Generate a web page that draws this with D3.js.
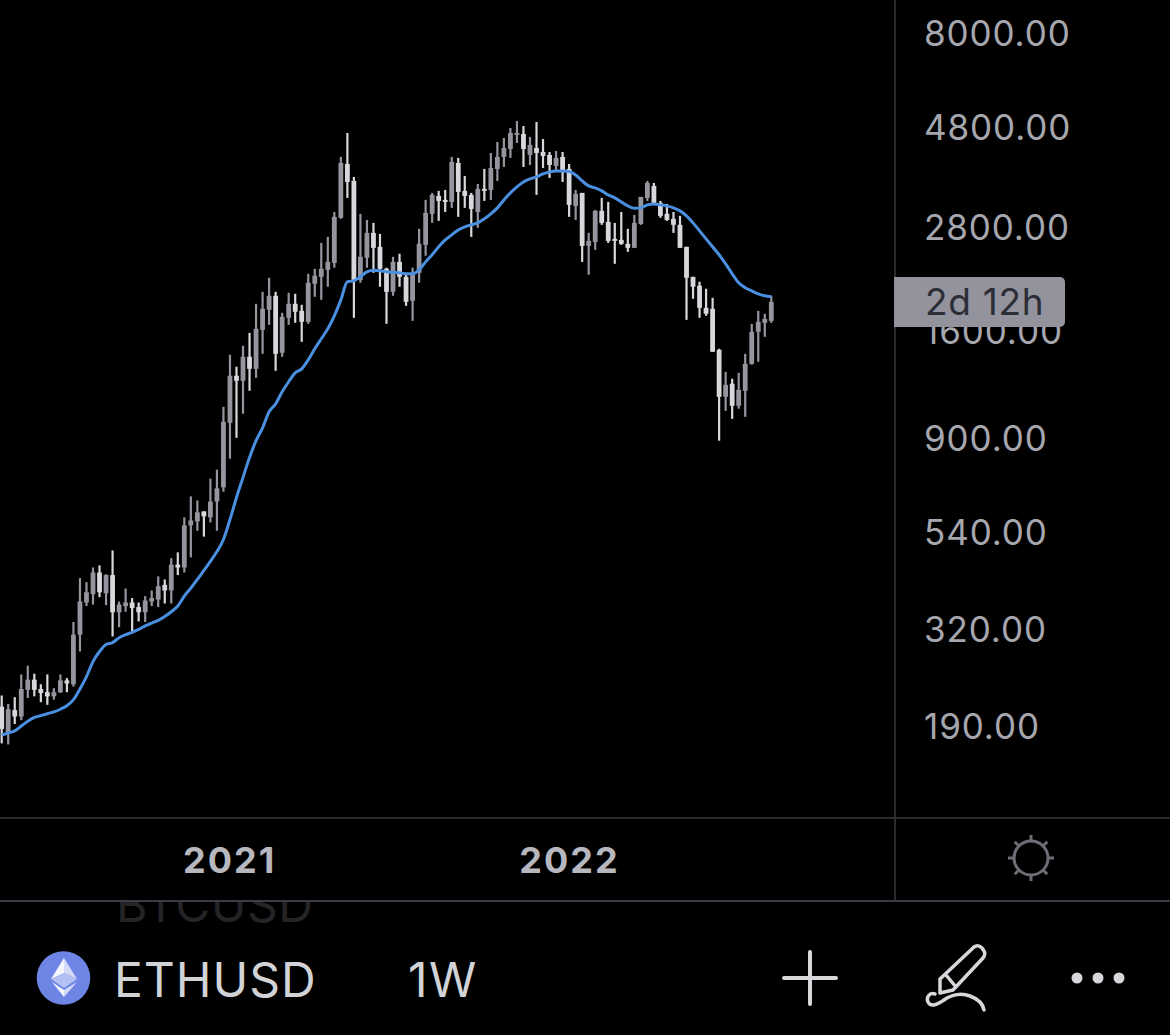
<!DOCTYPE html>
<html>
<head>
<meta charset="utf-8">
<title>ETHUSD 1W</title>
<script src="https://cdn.jsdelivr.net/npm/d3@7"></script>
<style>
  html, body { margin: 0; padding: 0; background: #000; overflow: hidden; }
  svg { display: block; }
  text { font-family: Inter, "Liberation Sans", sans-serif; }
</style>
</head>
<body>
<div id="chart"></div>
<script>
// Weekly candles, oldest first
var opens = [211,183,207,200,231,244,232,228,223,228,243,238,311,370,387,435,389,429,351,363,370,361,351,372,376,407,395,454,447,561,
  573,605,586,638,689,976,1258,1224,1394,1306,1612,1796,1937,1424,1720,1855,1786,1683,2067,2146,2228,2314,2950,3946,3600,2111,2378,2720,2523,2241,
  1979,2326,2146,1885,2193,2550,3014,3321,3250,3215,3967,3412,3339,3046,3449,3430,3841,4098,4279,4614,4639,4143,4302,4210,4143,3904,4098,3841,3147,3375,
  2536,2591,3063,2887,2634,2619,2564,2509,2856,3285,3505,3198,3014,2934,2841,2523,2146,2045,1815,1806,1447,1123,1205,1070,1160,1342,1595,1674,1692];
var highs = [224,214,222,251,263,252,238,251,233,251,246,333,422,413,447,452,431,490,372,399,379,370,383,395,426,419,470,485,586,656,
  642,605,722,758,1064,1409,1321,1479,1586,1855,1979,2135,1979,1767,1969,1958,1845,2181,2241,2577,2662,3046,4098,4664,3679,3014,2917,2871,2706,2254,
  2391,2430,2193,2254,2780,3250,3375,3412,3430,4098,4076,3699,3375,3543,3841,4187,4443,4540,4791,4976,4843,4565,4949,4516,4210,4233,4210,3946,3430,3375,
  2720,3079,3285,3215,2871,3046,2780,2998,3303,3600,3562,3232,3181,3046,2982,2523,2146,2089,2012,1916,1455,1285,1238,1278,1416,1665,1786,1758,1937];
var lows = [173,172,192,196,221,223,216,213,219,227,228,235,284,363,366,381,365,308,324,352,315,334,333,363,361,368,368,429,435,472,
  545,528,570,545,673,804,900,1025,1160,1244,1416,1656,1292,1394,1656,1674,1511,1665,1927,1895,2034,2254,2934,3285,1720,2078,2254,2193,2034,1665,
  1937,2034,1835,1692,2078,2404,2871,2902,3046,3113,2966,3113,2662,2795,3232,3250,3600,3883,4076,4419,3883,3925,3339,3862,3659,3779,3581,2966,2917,2326,
  2170,2482,2841,2577,2302,2550,2456,2509,2841,3232,3181,2950,2902,2720,2509,1701,1906,1720,1739,1432,886,1041,997,1053,1008,1335,1357,1552,1674];
var closes = [187,208,200,232,244,231,227,223,228,243,239,311,372,391,435,391,429,351,366,370,359,351,374,379,404,395,454,447,561,576,
  602,589,638,685,981,1258,1224,1394,1306,1621,1806,1937,1416,1729,1855,1777,1683,2078,2158,2241,2326,2966,3967,3581,2111,2391,2720,2509,2241,1979,
  2326,2146,1875,2193,2564,3030,3339,3232,3215,3989,3393,3321,3096,3449,3412,3862,4098,4302,4664,4664,4279,4372,4187,4120,3925,4076,3800,3164,3357,2536,
  2605,3063,2871,2605,2605,2564,2509,2871,3303,3562,3198,2982,2917,2841,2509,2135,2034,1815,1758,1432,1123,1198,1070,1166,1342,1595,1683,1710,1875];

// Moving average over the same weeks
var average = [181,183,185,190,195,199,201,203,205,208,212,219,232,248,269,284,295,298,306,311,315,320,326,331,336,343,352,363,383,400,
  419,440,462,487,520,579,652,727,809,886,950,1036,1081,1154,1218,1278,1306,1371,1455,1536,1621,1739,1895,2089,2100,2146,2205,2222,2216,2205,
  2199,2193,2181,2181,2228,2326,2417,2523,2619,2691,2764,2810,2841,2871,2934,3014,3113,3250,3375,3486,3581,3640,3679,3739,3779,3800,3800,3790,3719,3600,
  3505,3467,3412,3339,3285,3215,3147,3105,3113,3164,3181,3164,3147,3113,3063,2982,2871,2750,2634,2523,2417,2302,2181,2078,2023,1990,1958,1937,1927];

// Axis labels
var priceTicks = [8000,4800,2800,1600,900,540,320,190];
var yearLabels = ["2021","2022"];
var yearWeeks = [34.8,86.9];

var width = 1170, height = 1035;

var svg = d3.select("#chart").append("svg")
  .attr("width", width)
  .attr("height", height)
  .style("background", "#000");

var x = d3.scaleLinear().domain([0, opens.length - 1]).range([1.7, 771.3]);
var y = d3.scaleLog().domain([190, 8000]).range([726, 33]);

// Frame lines
svg.append("line").attr("x1", 895).attr("x2", 895).attr("y1", 0).attr("y2", 901)
  .attr("stroke", "#2b2b30").attr("stroke-width", 2);
svg.append("line").attr("x1", 0).attr("x2", width).attr("y1", 818).attr("y2", 818)
  .attr("stroke", "#2b2b30").attr("stroke-width", 2);
svg.append("line").attr("x1", 0).attr("x2", width).attr("y1", 901).attr("y2", 901)
  .attr("stroke", "#3b3c46").attr("stroke-width", 2);

// Candles: rising weeks are gray, falling weeks are light
var gray = "#94959e", light = "#d7d8dc";
var candles = svg.append("g").selectAll("g")
  .data(d3.range(opens.length))
  .join("g")
  .attr("fill", i => closes[i] >= opens[i] ? gray : light);

candles.append("rect")
  .attr("x", i => x(i) - 1.1)
  .attr("width", 2.2)
  .attr("y", i => y(highs[i]))
  .attr("height", i => y(lows[i]) - y(highs[i]));

candles.append("rect")
  .attr("x", i => x(i) - 2.4)
  .attr("width", 4.8)
  .attr("y", i => y(Math.max(opens[i], closes[i])))
  .attr("height", i => Math.max(1.5, Math.abs(y(opens[i]) - y(closes[i]))));

// Moving average line
var line = d3.line()
  .x((d, i) => x(i))
  .y(d => y(d))
  .curve(d3.curveMonotoneX);

svg.append("path")
  .datum(average)
  .attr("fill", "none")
  .attr("stroke", "#4a8fe0")
  .attr("stroke-width", 3)
  .attr("d", line);

// Price axis labels
svg.append("g").selectAll("text")
  .data(priceTicks)
  .join("text")
  .attr("x", 924)
  .attr("y", d => y(d) + 12.8)
  .attr("font-size", 35)
  .attr("letter-spacing", 0.9)
  .attr("fill", "#a6a7ae")
  .text(d => d3.format(".2f")(d));

// Countdown badge sits on top of the 1600 label
svg.append("path")
  .attr("d", "M894,277H1060a5,5 0 0 1 5,5V322a5,5 0 0 1 -5,5H894Z")
  .attr("fill", "#92939c");
svg.append("text")
  .attr("x", 925).attr("y", 315)
  .attr("font-size", 37)
  .attr("letter-spacing", 0.7)
  .attr("fill", "#2c2e37")
  .text("2d 12h");

// Year labels
svg.append("g").selectAll("text")
  .data(yearLabels)
  .join("text")
  .attr("x", (d, i) => x(yearWeeks[i]) + 1)
  .attr("y", 873)
  .attr("text-anchor", "middle")
  .attr("font-size", 36)
  .attr("font-weight", 700)
  .attr("letter-spacing", 2)
  .attr("fill", "#b7b8bf")
  .text(d => d);

// Settings icon under the price axis
var gear = svg.append("g").attr("transform", "translate(1031,858)")
  .attr("fill", "none").attr("stroke", "#6d6e75").attr("stroke-width", 3);
gear.append("circle").attr("r", 17);
d3.range(8).forEach(k => {
  gear.append("line").attr("y1", -17).attr("y2", -23)
    .attr("transform", "rotate(" + k * 45 + ")");
});

// Bottom toolbar, with the previous symbol scrolled almost out of view
svg.append("clipPath").attr("id", "toolbar")
  .append("rect").attr("x", 0).attr("y", 902).attr("width", width).attr("height", 133);
svg.append("text")
  .attr("clip-path", "url(#toolbar)")
  .attr("x", 116).attr("y", 922)
  .attr("font-size", 48)
  .attr("letter-spacing", 0.5)
  .attr("fill", "#242426")
  .text("BTCUSD");

// Ethereum logo
svg.append("circle").attr("cx", 63.5).attr("cy", 978).attr("r", 26.8).attr("fill", "#6f85e6");
svg.append("path").attr("d", "M64,958L51,979L64,973Z").attr("fill", "#f4f5fd");
svg.append("path").attr("d", "M64,958L77,979L64,973Z").attr("fill", "#d3daf8");
svg.append("path").attr("d", "M64,973L51,979L64,988L77,979Z").attr("fill", "#b4c0f2");
svg.append("path").attr("d", "M52,982L64,997L64,990Z").attr("fill", "#f4f5fd");
svg.append("path").attr("d", "M77,982L64,997L64,990Z").attr("fill", "#d3daf8");

svg.append("text").attr("x", 114).attr("y", 997)
  .attr("font-size", 48).attr("letter-spacing", 1).attr("fill", "#d2d3d7").text("ETHUSD");
svg.append("text").attr("x", 408).attr("y", 997)
  .attr("font-size", 48).attr("letter-spacing", 1.5).attr("fill", "#d2d3d7").text("1W");

svg.append("path").attr("d", "M784,978H836M810,952V1004")
  .attr("stroke", "#d6d7da").attr("stroke-width", 4).attr("stroke-linecap", "round");

// Pencil and its squiggle
svg.append("path")
  .attr("d", "M974,947Q978,944 982,948L984,951Q986,954 983,958L953,990L940,993L940,979Z M946,975L956,987 M935,994C929,992 926,998 928,1002C931,1008 938,1004 944,1000C952,994 962,993 970,996C978,999 983,1004 984,1010")
  .attr("fill", "none").attr("stroke", "#d6d7da").attr("stroke-width", 3.5)
  .attr("stroke-linejoin", "round").attr("stroke-linecap", "round");

svg.append("g").selectAll("circle")
  .data([1077,1098,1119])
  .join("circle")
  .attr("cx", d => d).attr("cy", 978).attr("r", 5.5).attr("fill", "#d6d7da");
</script>
</body>
</html>
